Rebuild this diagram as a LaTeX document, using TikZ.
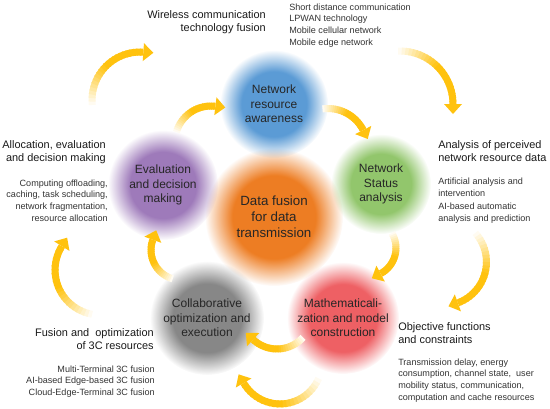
\documentclass[tikz,border=0pt]{standalone}
\usepackage{fontspec}
\setmainfont{Liberation Sans}
\usetikzlibrary{fadings}

\definecolor{blobblue}{RGB}{91,155,213}
\definecolor{blobgreen}{RGB}{146,198,108}
\definecolor{blobred}{RGB}{238,96,100}
\definecolor{bloborange}{RGB}{237,125,35}
\definecolor{blobgray}{RGB}{135,135,135}
\definecolor{blobpurple}{RGB}{158,122,186}
\definecolor{arrowyellow}{RGB}{255,194,14}

% soft edge of the circles
\pgfdeclareradialshading{blobmask}{\pgfpointorigin}{color(0bp)=(pgftransparent!0); color(15bp)=(pgftransparent!0); color(25bp)=(pgftransparent!100); color(50bp)=(pgftransparent!100)}
\pgfdeclarefading{blobfade}{\pgfuseshading{blobmask}}

\begin{document}
\begin{tikzpicture}[x=0.75pt,y=0.75pt,yscale=-1,xscale=1,
  blob/.style={circle, inner sep=0pt, path fading=blobfade, text=black!85, align=center, font=\fontsize{9}{10.9}\selectfont},
  lbltext/.style={font=\fontsize{8.2}{9.75}\selectfont, text=black!90, inner sep=0pt},
  smalltext/.style={font=\fontsize{6.8}{8.8}\selectfont, text=black!80, inner sep=0pt},
  shaft/.style={line width=5.25pt}]
\useasboundingbox (0,0) rectangle (550,408);

% Circles
\node[blob, fill=bloborange, minimum size=103.5pt, font=\fontsize{10}{12}\selectfont] (fusion) at (274,217) {Data fusion\\for data\\transmission};
\node[blob, fill=blobblue, minimum size=81pt] (aware) at (274,104) {Network\\resource\\awareness};
\node[blob, fill=blobgreen, minimum size=75pt] (status) at (381,184) {Network\\Status\\analysis};
\node[blob, fill=blobred, minimum size=84pt] (model) at (343,318) {Mathematicali-\\zation and model\\construction};
\node[blob, fill=blobgray, minimum size=85.5pt] (collab) at (207,318) {Collaborative\\optimization and\\execution};
\node[blob, fill=blobpurple, minimum size=82.5pt] (decide) at (163,185) {Evaluation\\and decision\\making};

% Curved arrows (center x / center y / radius / start angle / end angle)
\foreach \cx/\cy/\rr/\sa/\ea in {140/100/48/174/274, 400/104/53/268/360, 443/262/43.5/-42/70, 280/362/42/23/150, 100/270/45/100/212,
  211/142/36/196/277, 328/148/39.5/262/333, 367/248/29/-31/62, 277/314/35/42/133, 181/250/30/106/200} {
  \foreach \i in {0,...,23} {
    \pgfmathsetmacro\ta{\sa+(\ea-(\sa))*\i/24}
    \pgfmathsetmacro\tb{min(\ea,\sa+(\ea-(\sa))*(\i+1.4)/24)}
    \pgfmathsetmacro\pc{min(100,6+8*\i)}
    \draw[shaft, draw=arrowyellow!\pc!white, shift={(\cx,\cy)}] (\ta:\rr) arc[start angle=\ta, end angle=\tb, radius=\rr];
  }
  \fill[arrowyellow, shift={(\cx,\cy)}] (\ea:\rr) +(\ea:9) -- +(\ea+90:10) -- +(\ea+180:9) -- cycle;
}

% Text Node
\node[lbltext, anchor=base east, align=right] (wireless) at (266,31) {Wireless communication\\technology fusion};
% Text Node
\node[smalltext, anchor=base west, align=left] (wirelist) at (289,45.2) {Short distance communication\\LPWAN technology\\Mobile cellular network\\Mobile edge network};
% Text Node
\node[lbltext, anchor=base west, align=left] (analysis) at (438,161) {Analysis of perceived\\network resource data};
% Text Node
\node[smalltext, anchor=base west, align=left] (manual) at (438,196.7) {Artificial analysis and\\intervention};
% Text Node
\node[smalltext, anchor=base west, align=left] (autoai) at (438,221.7) {AI-based automatic\\analysis and prediction};
% Text Node
\node[lbltext, anchor=base west, align=left] (objective) at (398,343) {Objective functions\\and constraints};
% Text Node
\node[smalltext, anchor=base west, align=left] (objlist) at (398,400.2) {Transmission delay, energy\\consumption, channel state,\ \ user\\mobility status, communication,\\computation and cache resources};
% Text Node
\node[lbltext, anchor=base east, align=right] (fusionthreec) at (154,349) {Fusion and\ \ optimization\\of 3C resources};
% Text Node
\node[smalltext, anchor=base east, align=right] (fuselist) at (155,395.5) {Multi-Terminal 3C fusion\\AI-based Edge-based 3C fusion\\Cloud-Edge-Terminal 3C fusion};
% Text Node
\node[lbltext, anchor=base east, align=right] (allocation) at (106,161) {Allocation, evaluation\\and decision making};
% Text Node
\node[smalltext, anchor=base east, align=right] (alloclist) at (108,221.2) {Computing offloading,\\caching, task scheduling,\\network fragmentation,\\resource allocation};

\end{tikzpicture}
\end{document}
